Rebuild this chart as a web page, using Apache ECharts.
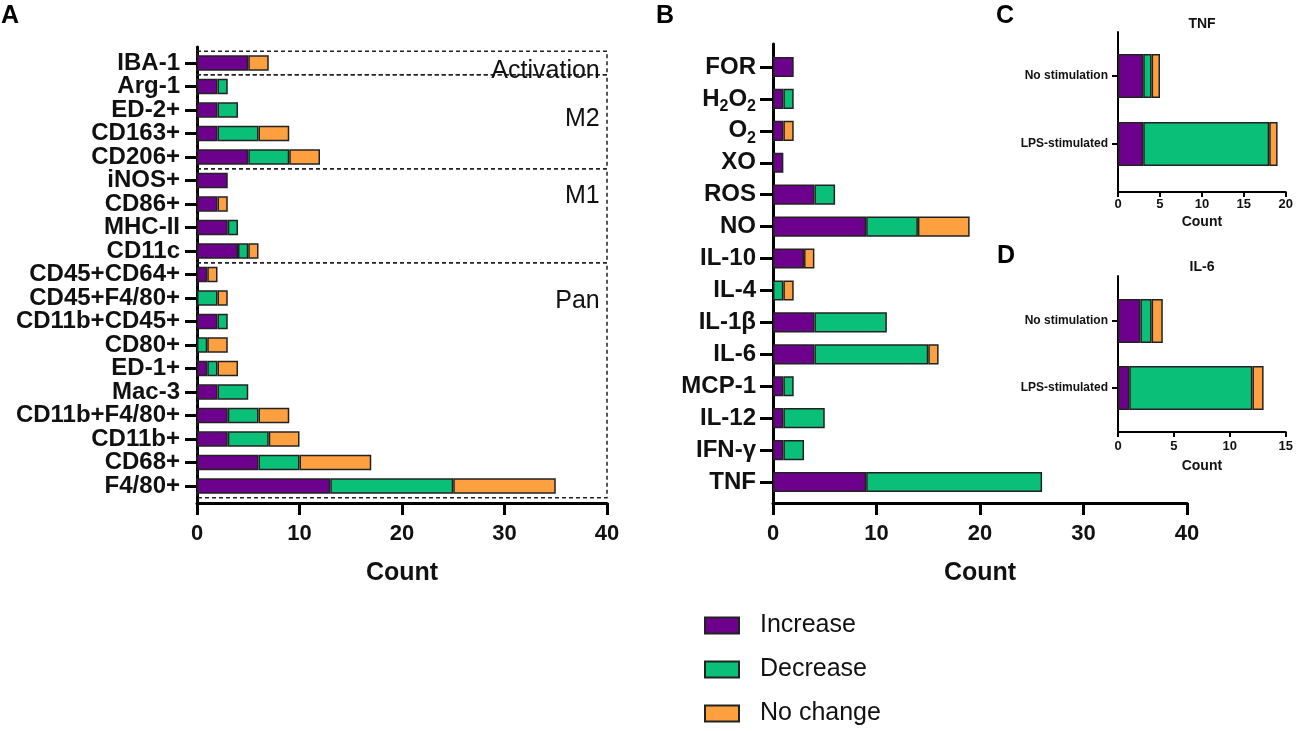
<!DOCTYPE html>
<html>
<head>
<meta charset="utf-8">
<script src="https://cdn.jsdelivr.net/npm/echarts@6/dist/echarts.min.js"></script>
<style>
html,body{margin:0;padding:0;background:#fff;}
#chart{width:1296px;height:731px;}
</style>
</head>
<body>
<div id="chart"></div>
<script>
// ---------- DATA ----------
const seriesNames = ['Increase', 'Decrease', 'No change'];

// Panel A
const catsA = ['IBA-1','Arg-1','ED-2+','CD163+','CD206+','iNOS+','CD86+','MHC-II','CD11c',
  'CD45+CD64+','CD45+F4/80+','CD11b+CD45+','CD80+','ED-1+','Mac-3','CD11b+F4/80+','CD11b+','CD68+','F4/80+'];
const incA = [5,2,2,2,5,3,2,3,4,1,0,2,0,1,2,3,3,6,13];
const decA = [0,1,2,4,4,0,0,1,1,0,2,1,1,1,3,3,4,4,12];
const ncA  = [2,0,0,3,3,0,1,0,1,1,1,0,2,2,0,3,3,7,10];
const groupNamesA = ['Activation','M2','M1','Pan'];
const groupSizesA = [1,4,4,10];

// Panel B
const catsB = ['FOR','H₂O₂','O₂','XO','ROS','NO','IL-10','IL-4','IL-1β','IL-6','MCP-1','IL-12','IFN-γ','TNF'];
const incB = [2,1,1,1,4,9,3,0,4,4,1,1,1,9];
const decB = [0,1,0,0,2,5,0,1,7,11,1,4,2,17];
const ncB  = [0,0,1,0,0,5,1,1,0,1,0,0,0,0];

// Panel C (TNF)
const catsC = ['No stimulation','LPS-stimulated'];
const incC = [3,3];
const decC = [1,15];
const ncC  = [1,1];

// Panel D (IL-6)
const catsD = ['No stimulation','LPS-stimulated'];
const incD = [2,1];
const decD = [1,11];
const ncD  = [1,1];

// axis ranges / ticks
const ticksAB = [0,10,20,30,40];
const ticksC = [0,5,10,15,20];
const ticksD = [0,5,10,15];

// ---------- STYLE ----------
const FONT = "'Liberation Sans', Arial, Helvetica, sans-serif";
const colors = ['#6e008e', '#0abf78', '#ffa040'];
const BORDER = '#222';
const TXT = '#111';

const chart = echarts.init(document.getElementById('chart'), null, {renderer: 'canvas'});

function nz(arr){ return arr.map(v => v === 0 ? '-' : v); }

function frameX(gridIndex, ticks, big, labelMargin, nameGap){
  return {
    gridIndex, type: 'value', min: ticks[0], max: ticks[ticks.length-1],
    interval: ticks[1]-ticks[0],
    axisLine: {show: true, onZero: false, lineStyle: {color: '#000', width: big ? 3 : 2}},
    axisTick: {show: true, length: big ? 12 : 5, lineStyle: {color: '#000', width: big ? 3 : 2}},
    axisLabel: {fontFamily: FONT, fontSize: big ? 22 : 13, fontWeight: 'bold', color: TXT, margin: labelMargin},
    splitLine: {show: false},
    name: 'Count', nameLocation: 'middle', nameGap: nameGap,
    nameTextStyle: {fontFamily: FONT, fontSize: big ? 25 : 14, fontWeight: 'bold', color: TXT}
  };
}
function dataX(gridIndex, ticks){
  return {gridIndex, type: 'value', min: ticks[0], max: ticks[ticks.length-1], show: false};
}
function frameY(gridIndex, big){
  return {
    gridIndex, type: 'value', min: 0, max: 1,
    axisLine: {show: true, onZero: false, lineStyle: {color: '#000', width: big ? 3 : 2}},
    axisTick: {show: false}, axisLabel: {show: false}, splitLine: {show: false}
  };
}
function dataY(gridIndex, cats, fontSize, tickLen, margin, big, labelExtra){
  return {
    gridIndex, type: 'category', data: cats, inverse: true,
    axisLine: {show: false},
    axisTick: {show: true, alignWithLabel: true, interval: 0, length: tickLen, lineStyle: {color: '#000', width: big ? 3 : 2}},
    axisLabel: Object.assign({fontFamily: FONT, fontSize: fontSize, fontWeight: 'bold', color: TXT, margin: margin, interval: 0}, labelExtra || {}),
    splitLine: {show: false}
  };
}
function bars(xi, yi, stack, inc, dec, nc, bw){
  return [inc, dec, nc].map((arr, k) => ({
    name: seriesNames[k], type: 'bar', stack: stack,
    xAxisIndex: xi, yAxisIndex: yi, barWidth: bw,
    data: nz(arr),
    itemStyle: {color: colors[k], borderColor: BORDER, borderWidth: 1.5},
    emphasis: {disabled: true}
  }));
}

// group boxes for panel A (in category-index space)
const groupLabelOffsets = [[0, 0], [0, 25], [0, 8], [0, 19]];
const boxAreas = [];
let start = 0;
groupNamesA.forEach((g, i) => {
  const end = start + groupSizesA[i];
  boxAreas.push([
    {xAxis: ticksAB[0], yAxis: start - 0.5, name: g,
      label: {offset: groupLabelOffsets[i]}},
    {xAxis: ticksAB[ticksAB.length-1], yAxis: end - 0.5}
  ]);
  start = end;
});

const subRich = {s: {fontFamily: FONT, fontSize: 16, fontWeight: 'bold', color: TXT, padding: [16, 0, 0, 0], lineHeight: 16}};

const option = {
  backgroundColor: '#fff',
  animation: false,
  textStyle: {fontFamily: FONT},
  grid: [
    {left: 197, top: 47, width: 410, height: 456},     // 0 A frame
    {left: 197, top: 51.25, width: 410, height: 446.5},// 1 A data
    {left: 773, top: 44, width: 414, height: 459},     // 2 B frame
    {left: 773, top: 51, width: 414, height: 447},     // 3 B data
    {left: 1118, top: 32, width: 168, height: 160},    // 4 C frame
    {left: 1118, top: 42, width: 168, height: 136},    // 5 C data
    {left: 1118, top: 276, width: 168, height: 156},   // 6 D frame
    {left: 1118, top: 287.5, width: 168, height: 134}  // 7 D data
  ],
  xAxis: [
    frameX(0, ticksAB, true, 20, 58),
    dataX(1, ticksAB),
    frameX(2, ticksAB, true, 20, 58),
    dataX(3, ticksAB),
    frameX(4, ticksC, false, 6, 23),
    dataX(5, ticksC),
    frameX(6, ticksD, false, 8, 27),
    dataX(7, ticksD)
  ],
  yAxis: [
    frameY(0, true),                                  // 0
    dataY(1, catsA, 24, 12, 17, true),                // 1
    {gridIndex: 1, type: 'value', min: -0.5, max: catsA.length - 0.5, inverse: true, show: false}, // 2
    frameY(2, true),                                  // 3
    dataY(3, catsB, 24, 13, 17, true, {formatter: v => v.replace(/₂/g, '{s|2}'), rich: subRich}), // 4
    frameY(4, false),                                 // 5
    dataY(5, catsC, 12, 6, 10, false),                // 6
    frameY(6, false),                                 // 7
    dataY(7, catsD, 12, 6, 10, false)                 // 8
  ],
  legend: {
    data: seriesNames, orient: 'vertical', left: 704, top: 613, padding: 0,
    width: 300, height: 130,
    itemWidth: 34, itemHeight: 16, itemGap: 19,
    icon: 'rect',
    textStyle: {fontFamily: FONT, fontSize: 25, color: TXT, padding: [0, 0, 0, 16]},
    selectedMode: false
  },
  graphic: [
    {type: 'text', left: 1, top: 4, style: {text: 'A', font: 'bold 25px ' + FONT, fill: '#000'}},
    {type: 'text', left: 656, top: 4, style: {text: 'B', font: 'bold 25px ' + FONT, fill: '#000'}},
    {type: 'text', left: 996, top: 4, style: {text: 'C', font: 'bold 25px ' + FONT, fill: '#000'}},
    {type: 'text', left: 997, top: 244, style: {text: 'D', font: 'bold 25px ' + FONT, fill: '#000'}},
    {type: 'text', x: 1202, y: 24, style: {text: 'TNF', font: 'bold 14px ' + FONT, fill: TXT,
      align: 'center', verticalAlign: 'middle', textAlign: 'center', textVerticalAlign: 'middle'}},
    {type: 'text', x: 1202, y: 267, style: {text: 'IL-6', font: 'bold 14px ' + FONT, fill: TXT,
      align: 'center', verticalAlign: 'middle', textAlign: 'center', textVerticalAlign: 'middle'}}
  ],
  series: [
    ...bars(1, 1, 'A', incA, decA, ncA, '65%'),
    ...bars(3, 4, 'B', incB, decB, ncB, '63%'),
    ...bars(5, 6, 'C', incC, decC, ncC, '65%'),
    ...bars(7, 8, 'D', incD, decD, ncD, '66%'),
    {
      name: 'groups', type: 'line', xAxisIndex: 1, yAxisIndex: 2, data: [], silent: true,
      markArea: {
        silent: true,
        itemStyle: {color: 'rgba(0,0,0,0)', borderColor: '#222', borderWidth: 1.5, borderType: [4, 3]},
        label: {show: true, position: 'insideTopRight', distance: 8, fontFamily: FONT, fontSize: 25, color: TXT, fontWeight: 'normal'},
        emphasis: {disabled: true},
        data: boxAreas
      }
    }
  ]
};
chart.setOption(option);
</script>
</body>
</html>
